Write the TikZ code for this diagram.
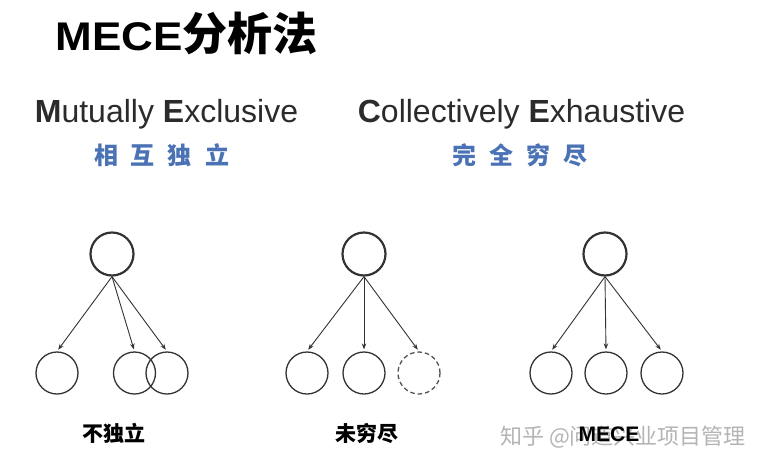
\documentclass[tikz,border=0pt]{standalone}
\usepackage{fontspec}
\setmainfont{Liberation Sans}
\newfontfamily\cjk{Noto Sans CJK SC}
\usetikzlibrary{arrows.meta}
\definecolor{txt}{HTML}{2B2B2B}
\definecolor{bluetxt}{HTML}{4A72B5}
\definecolor{ln}{HTML}{333333}
\definecolor{wm}{HTML}{B4B4B4}
\begin{document}
\begin{tikzpicture}[x=1pt,y=-1pt,
  topnode/.style={circle,draw=ln,line width=2.2pt,minimum size=43pt,inner sep=0pt},
  childnode/.style={circle,draw=ln,line width=1.3pt,minimum size=42pt,inner sep=0pt},
  dashnode/.style={childnode,draw=ln!85,dash pattern=on 4.5pt off 3pt},
  arr/.style={draw=ln,line width=0.9pt,-{Stealth[length=6pt,width=4.5pt]},shorten >=2pt},
  cjklabel/.style={inner sep=0pt,font=\cjk\bfseries\fontsize{21}{21}\selectfont,text=black}]
\useasboundingbox (0,0) rectangle (760,472);
\fill[white] (0,0) rectangle (760,472);

% titles
\node[anchor=base,inner sep=0pt,text=black] (title) at (186.5,50)
  {\scalebox{1.1}[1]{\bfseries\fontsize{40}{40}\selectfont MECE}{\cjk\bfseries\fontsize{45}{45}\selectfont 分析法}};
\node[anchor=base,inner sep=0pt,text=txt] (me) at (166.5,122)
  {\fontsize{32}{32}\selectfont\textbf{M}utually \textbf{E}xclusive};
\node[anchor=base,inner sep=0pt,text=txt] (ce) at (521.5,122)
  {\fontsize{32}{32}\selectfont\textbf{C}ollectively \textbf{E}xhaustive};
\node[inner sep=0pt,text=bluetxt] (mecn) at (161.5,155)
  {\cjk\bfseries\fontsize{24}{24}\selectfont 相\hspace{13pt}互\hspace{13pt}独\hspace{13pt}立};
\node[inner sep=0pt,text=bluetxt] (cecn) at (520,155)
  {\cjk\bfseries\fontsize{24}{24}\selectfont 完\hspace{13pt}全\hspace{13pt}穷\hspace{13pt}尽};

% tree 1
\node[topnode] (t1) at (112,254) {};
\node[childnode] (a1) at (57,373) {};
\node[childnode] (a2) at (134.5,373) {};
\node[childnode] (a3) at (167,373) {};
\draw[arr] (t1.south) -- (a1.north);
\draw[arr] (t1.south) -- (a2.north);
\draw[arr] (t1.south) -- (a3.north);
\node[cjklabel] (l1) at (114,433) {不独立};

% tree 2
\node[topnode] (t2) at (364,254) {};
\node[childnode] (b1) at (307,373) {};
\node[childnode] (b2) at (364,373) {};
\node[dashnode] (b3) at (419,373) {};
\draw[arr] (t2.south) -- (b1.north);
\draw[arr] (t2.south) -- (b2.north);
\draw[arr] (t2.south) -- (b3.north);
\node[cjklabel] (l2) at (367,433) {未穷尽};

% tree 3
\node[topnode] (t3) at (605,254) {};
\node[childnode] (c1) at (551,373) {};
\node[childnode] (c2) at (606,373) {};
\node[childnode] (c3) at (662,373) {};
\draw[arr] (t3.south) -- (c1.north);
\draw[arr] (t3.south) -- (c2.north);
\draw[arr] (t3.south) -- (c3.north);

% watermark
\node[inner sep=0pt,text=wm] (wmk) at (623,437)
  {\cjk\fontsize{22}{22}\selectfont 知乎 @问道兴业项目管理};
\node[anchor=base,inner sep=0pt,text=black] (l3) at (609,441)
  {\bfseries\fontsize{21}{21}\selectfont MECE};
\end{tikzpicture}
\end{document}
